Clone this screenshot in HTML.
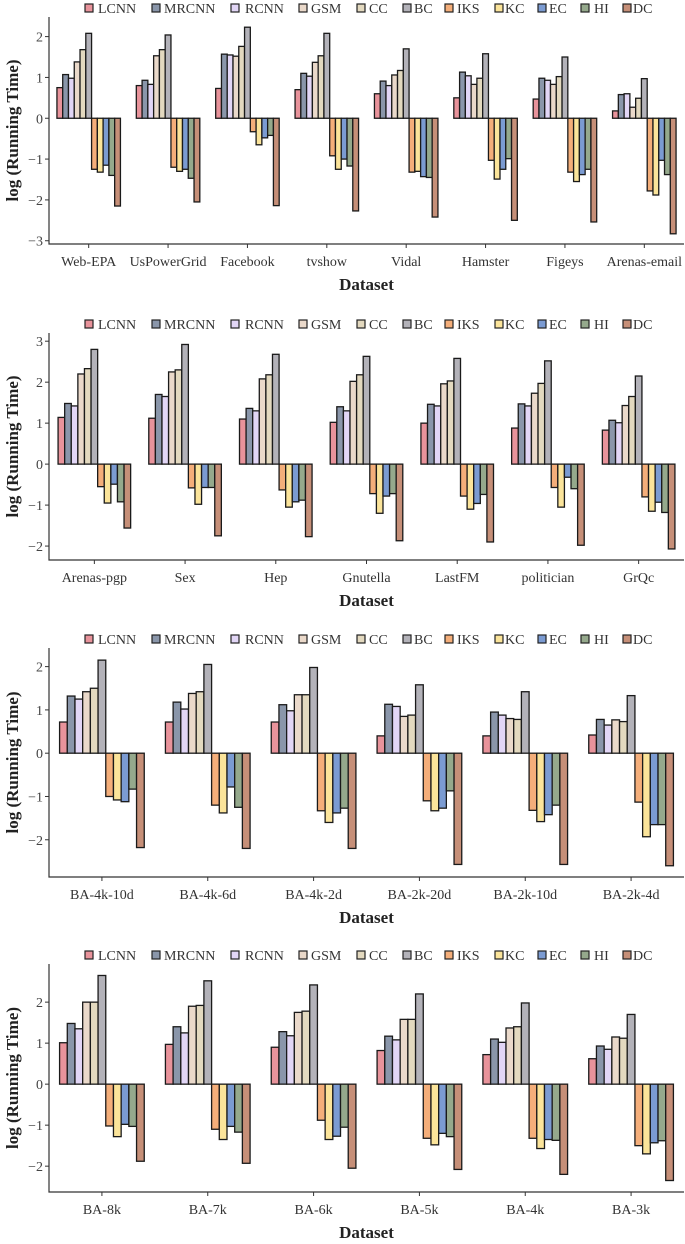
<!DOCTYPE html>
<html><head><meta charset="utf-8">
<style>
html,body{margin:0;padding:0;background:#fff;}
svg{display:block;font-family:"Liberation Serif",serif;}
</style></head>
<body>
<svg id="chart" width="685" height="1244" viewBox="0 0 685 1244"></svg>
<script>
const methods = ["LCNN","MRCNN","RCNN","GSM","CC","BC","IKS","KC","EC","HI","DC"];
const colors = ["#e8939b","#8a96aa","#e2d6f6","#ead9ca","#e3d9bf","#b3b2b9","#f4ae7a","#fbe49a","#7b9bd2","#95a98c","#c68f78"];

const cats1 = ["Web-EPA","UsPowerGrid","Facebook","tvshow","Vidal","Hamster","Figeys","Arenas-email"];
const vals1 = [
 [0.75,1.07,0.98,1.38,1.68,2.08,-1.25,-1.32,-1.15,-1.4,-2.15],
 [0.8,0.93,0.83,1.53,1.68,2.04,-1.2,-1.3,-1.25,-1.47,-2.05],
 [0.73,1.57,1.55,1.52,1.76,2.23,-0.33,-0.65,-0.48,-0.42,-2.14],
 [0.7,1.1,1.03,1.37,1.53,2.08,-0.92,-1.25,-1.0,-1.17,-2.27],
 [0.6,0.91,0.8,1.06,1.17,1.7,-1.32,-1.3,-1.43,-1.45,-2.42],
 [0.5,1.13,1.04,0.83,0.98,1.58,-1.03,-1.49,-1.25,-0.99,-2.5],
 [0.47,0.98,0.93,0.83,1.02,1.5,-1.32,-1.55,-1.38,-1.25,-2.54],
 [0.18,0.58,0.6,0.27,0.49,0.97,-1.78,-1.88,-1.03,-1.38,-2.83]
];
const ticks1 = [-3,-2,-1,0,1,2];

const cats2 = ["Arenas-pgp","Sex","Hep","Gnutella","LastFM","politician","GrQc"];
const vals2 = [
 [1.14,1.48,1.42,2.2,2.33,2.8,-0.55,-0.95,-0.49,-0.92,-1.56],
 [1.12,1.7,1.65,2.25,2.3,2.92,-0.58,-0.98,-0.57,-0.57,-1.75],
 [1.1,1.36,1.3,2.08,2.18,2.68,-0.63,-1.05,-0.92,-0.88,-1.77],
 [1.02,1.4,1.3,2.02,2.18,2.63,-0.72,-1.2,-0.78,-0.72,-1.87],
 [1.0,1.46,1.42,1.96,2.03,2.58,-0.78,-1.1,-0.96,-0.74,-1.9],
 [0.88,1.47,1.42,1.73,1.97,2.52,-0.57,-1.05,-0.32,-0.6,-1.98],
 [0.83,1.07,1.01,1.43,1.65,2.15,-0.8,-1.15,-0.93,-1.18,-2.07]
];
const ticks2 = [-2,-1,0,1,2,3];

const cats3 = ["BA-4k-10d","BA-4k-6d","BA-4k-2d","BA-2k-20d","BA-2k-10d","BA-2k-4d"];
const vals3 = [
 [0.72,1.32,1.25,1.42,1.5,2.15,-1.0,-1.08,-1.12,-0.83,-2.18],
 [0.72,1.18,1.02,1.38,1.42,2.05,-1.2,-1.38,-0.78,-1.25,-2.2],
 [0.72,1.12,0.98,1.35,1.35,1.98,-1.33,-1.6,-1.38,-1.27,-2.2],
 [0.4,1.13,1.08,0.85,0.88,1.58,-1.1,-1.33,-1.27,-0.87,-2.57],
 [0.4,0.95,0.88,0.8,0.78,1.42,-1.32,-1.58,-1.42,-1.2,-2.57],
 [0.42,0.78,0.65,0.77,0.73,1.33,-1.13,-1.93,-1.65,-1.65,-2.6]
];
const ticks3 = [-2,-1,0,1,2];

const cats4 = ["BA-8k","BA-7k","BA-6k","BA-5k","BA-4k","BA-3k"];
const vals4 = [
 [1.01,1.48,1.35,2.0,2.0,2.65,-1.02,-1.28,-0.98,-1.03,-1.88],
 [0.97,1.4,1.25,1.9,1.92,2.52,-1.1,-1.35,-1.03,-1.17,-1.93],
 [0.9,1.28,1.18,1.75,1.78,2.42,-0.88,-1.35,-1.27,-1.05,-2.05],
 [0.82,1.17,1.08,1.58,1.58,2.2,-1.32,-1.48,-1.2,-1.28,-2.08],
 [0.72,1.1,1.02,1.37,1.4,1.98,-1.32,-1.57,-1.35,-1.37,-2.2],
 [0.62,0.93,0.85,1.15,1.12,1.7,-1.5,-1.7,-1.43,-1.38,-2.35]
];
const ticks4 = [-2,-1,0,1,2];

const panels = [
 {cats:cats1, vals:vals1, ticks:ticks1, top:17, bottom:244, ymax:2.48, ymin:-3.08},
 {cats:cats2, vals:vals2, ticks:ticks2, top:333, bottom:560, ymax:3.2, ymin:-2.34},
 {cats:cats3, vals:vals3, ticks:ticks3, top:648, bottom:877, ymax:2.43, ymin:-2.86},
 {cats:cats4, vals:vals4, ticks:ticks4, top:964, bottom:1192, ymax:2.93, ymin:-2.63}
];
const legX = [85,152,231,299,357,403,445,495,538,581,623];
const legT = [98,164,245,311,369,414,457,505,549,594,633];

const NS = "http://www.w3.org/2000/svg";
const svg = document.getElementById("chart");
function mk(tag, attrs, parent){
  const e = document.createElementNS(NS, tag);
  for (const k in attrs) e.setAttribute(k, attrs[k]);
  (parent||svg).appendChild(e);
  return e;
}
const L = 49, R = 684;
panels.forEach((p, pi) => {
  const g = mk("g", {});
  
  
  const y = v => p.top + (p.ymax - v) / (p.ymax - p.ymin) * (p.bottom - p.top);
  const step = (R - L) / p.cats.length;
  const xc = i => L + (i + 0.5) * step;
  const gw = step * 0.8, bw = gw / methods.length;
  const lg = mk("g", {}, g);
  
  
  const ly = p.top - 9;
  methods.forEach((m, k) => {
    const r = mk("rect", {x:legX[k], y:ly-4, width:8, height:8, fill:colors[k], stroke:"#222", "stroke-width":1.2}, lg);
    
    
    const t = mk("text", {x:legT[k], y:ly+5, "font-size":14, fill:"#333"}, lg);
    t.textContent = m;
    
    
  });
  p.vals.forEach((row, i) => {
    row.forEach((v, k) => {
      const x0 = xc(i) - gw/2 + k*bw;
      const y0 = y(0), y1 = y(v);
      const b = mk("rect", {x:x0, y:Math.min(y0,y1), width:bw, height:Math.abs(y1-y0), fill:colors[k], stroke:"#1a1a1a", "stroke-width":1.3}, g);
      
      
    });
  });
  const ax = mk("path", {d:`M${L} ${p.top}V${p.bottom}H${R}`, fill:"none", stroke:"#333", "stroke-width":1.2}, g);
  
  
  p.ticks.forEach(t => {
    mk("line", {x1:L-4, x2:L, y1:y(t), y2:y(t), stroke:"#333", "stroke-width":1}, g);
    const tl = mk("text", {x:L-6, y:y(t)+5, "font-size":14, fill:"#444", "text-anchor":"end"}, g);
    tl.textContent = t < 0 ? "\u2212" + Math.abs(t) : String(t);
    
    
  });
  p.cats.forEach((c, i) => {
    mk("line", {x1:xc(i), x2:xc(i), y1:p.bottom, y2:p.bottom+4, stroke:"#333", "stroke-width":1}, g);
    const tl = mk("text", {x:xc(i), y:p.bottom+22, "font-size":14, fill:"#333", "text-anchor":"middle"}, g);
    tl.textContent = c;
    
    
  });
  const xt = mk("text", {x:(L+R)/2, y:p.bottom+46, "font-size":17, "font-weight":"bold", fill:"#222", "text-anchor":"middle"}, g);
  xt.textContent = "Dataset";
  
  
  const cy = (p.top + p.bottom) / 2;
  const yt = mk("text", {x:18, y:cy, "font-size":17, "font-weight":"bold", fill:"#222", "text-anchor":"middle", transform:`rotate(-90 18 ${cy})`}, g);
  yt.textContent = "log (Running Time)";
  
  
});
</script>
</body></html>
